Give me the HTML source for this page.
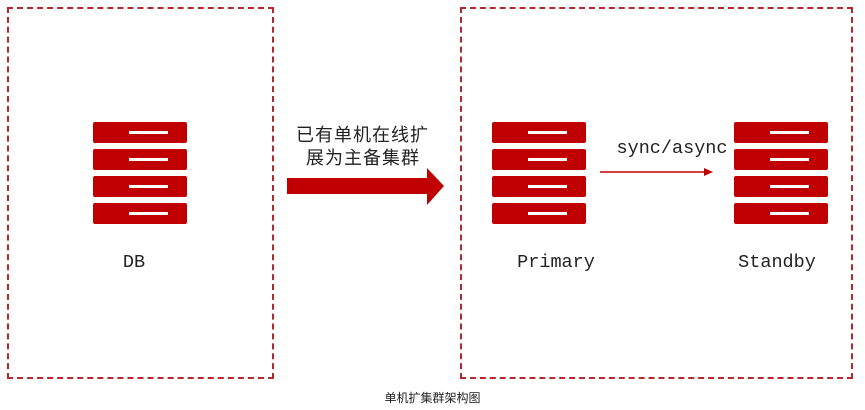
<!DOCTYPE html>
<html><head><meta charset="utf-8"><style>
body{margin:0;width:865px;height:410px;background:#fff;position:relative;overflow:hidden;font-family:"Liberation Sans","Noto Sans CJK SC",sans-serif}
.box{position:absolute;border:2px dashed #b5282b;box-sizing:border-box}
.srv{position:absolute;width:94px}
.srv div{height:21px;margin-bottom:6px;background:#c00000;border-radius:2px;position:relative}
.srv div:after{content:"";position:absolute;left:36px;width:39px;top:9px;height:3px;background:#fff}
.lbl{position:absolute;font-family:"Liberation Mono","DejaVu Sans Mono",monospace;font-size:18.5px;color:#222;transform:translateX(-50%);line-height:20px}
.t{position:absolute;font-size:18px;color:#222;line-height:20px;letter-spacing:1px}
</style></head><body>
<div class="box" style="left:7px;top:7px;width:267px;height:372px"></div>
<div class="box" style="left:460px;top:7px;width:393px;height:372px"></div>
<div class="srv" style="left:93px;top:122px"><div></div><div></div><div></div><div></div></div>
<div class="srv" style="left:492px;top:122px"><div></div><div></div><div></div><div></div></div>
<div class="srv" style="left:734px;top:122px"><div></div><div></div><div></div><div></div></div>
<div class="lbl" style="left:134px;top:253px">DB</div>
<div class="lbl" style="left:556px;top:253px">Primary</div>
<div class="lbl" style="left:777px;top:253px">Standby</div>
<div class="t" style="left:296px;top:125px">已有单机在线扩</div>
<div class="t" style="left:306px;top:148px">展为主备集群</div>
<svg style="position:absolute;left:0;top:0" width="865" height="410">
<polygon points="287,178 427,178 427,168 444,186 427,205 427,194 287,194" fill="#c00000"/>
<line x1="600" y1="172" x2="706" y2="172" stroke="#c00000" stroke-width="1.5"/>
<polygon points="704,168 713,172 704,176" fill="#c00000"/>
</svg>
<div style="position:absolute;left:612px;top:137px;width:120px;height:26px;background:#fff"></div>
<div class="lbl" style="left:672px;top:139px">sync/async</div>
<div style="position:absolute;left:0;width:865px;top:389px;text-align:center;font-size:12px;color:#222">单机扩集群架构图</div>
</body></html>
